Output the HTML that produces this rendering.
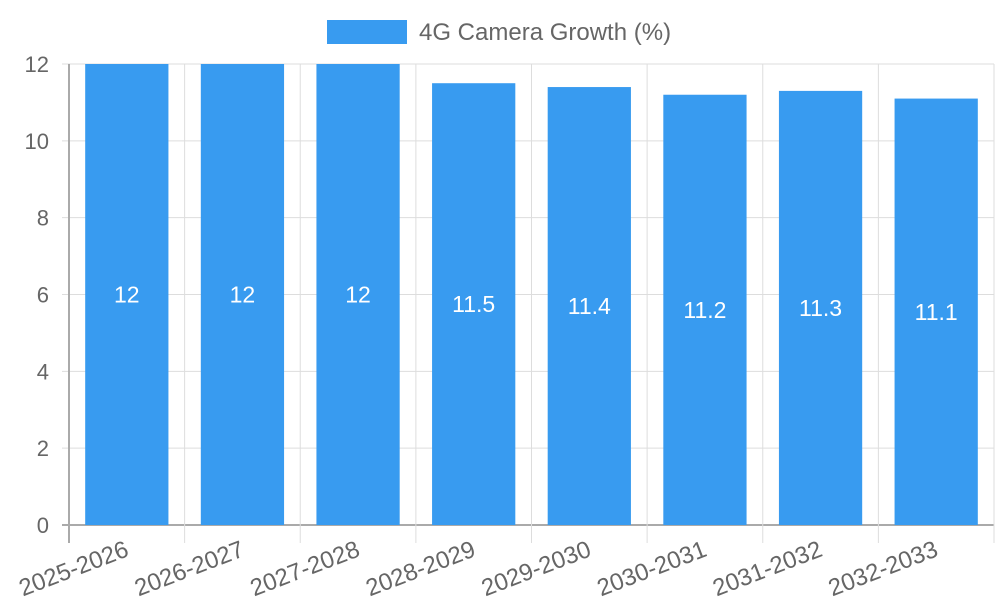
<!DOCTYPE html>
<html><head><meta charset="utf-8"><style>
body{margin:0;background:#fff;font-family:"Liberation Sans",sans-serif}
</style></head><body>
<svg id="c" width="1000" height="600"></svg>
<script>
const categories=["2025-2026","2026-2027","2027-2028","2028-2029","2029-2030","2030-2031","2031-2032","2032-2033"];
const values=[12,12,12,11.5,11.4,11.2,11.3,11.1];
const yTicks=[0,2,4,6,8,10,12];
const seriesName="4G Camera Growth (%)";
const NS="http://www.w3.org/2000/svg";
const svg=document.getElementById('c');
const L=69,R=994,T=64,B=525,yMax=12;
const bw=(R-L)/categories.length;
const y=v=>B-(v/yMax)*(B-T);
const x=i=>L+i*bw;
function mk(t,a,p){const e=document.createElementNS(NS,t);for(const k in a)e.setAttribute(k,a[k]);(p||svg).appendChild(e);return e;}
yTicks.forEach(t=>{
  const g=mk('line',{x1:L-7,x2:R,y1:y(t),y2:y(t),stroke:t===0?'#aaa':'#ddd','stroke-width':t===0?2:1});
  
  
  const tx=mk('text',{x:L-20,y:y(t)+8,'text-anchor':'end','font-size':22,fill:'#666'});
  tx.textContent=t;
  
  
});
for(let i=0;i<=categories.length;i++){
  const g=mk('line',{x1:x(i),x2:x(i),y1:T,y2:B+18,stroke:i===0?'#aaa':'#ddd','stroke-width':i===0?2:1});
  
  
}
categories.forEach((c,i)=>{
  const bx=x(i)+bw*0.14,w=bw*0.72;
  const r=mk('rect',{x:bx,y:y(values[i]),width:w,height:B-y(values[i]),fill:'#389bf0'});
  
  
  const v=mk('text',{x:bx+w/2,y:(y(values[i])+B)/2+8,'text-anchor':'middle','font-size':23,fill:'#fff'});
  v.textContent=values[i];
  
  
  const cx=x(i)+bw/2;
  const t=mk('text',{x:cx,y:556,'text-anchor':'end','font-size':24,fill:'#666',transform:`rotate(-21 ${cx} 547)`});
  t.textContent=c;
  
  
});
const lg=mk('rect',{x:327,y:20,width:80,height:24,fill:'#389bf0'});


const lt=mk('text',{x:419,y:40,'font-size':24,fill:'#666'});
lt.textContent=seriesName;


</script>
</body></html>
